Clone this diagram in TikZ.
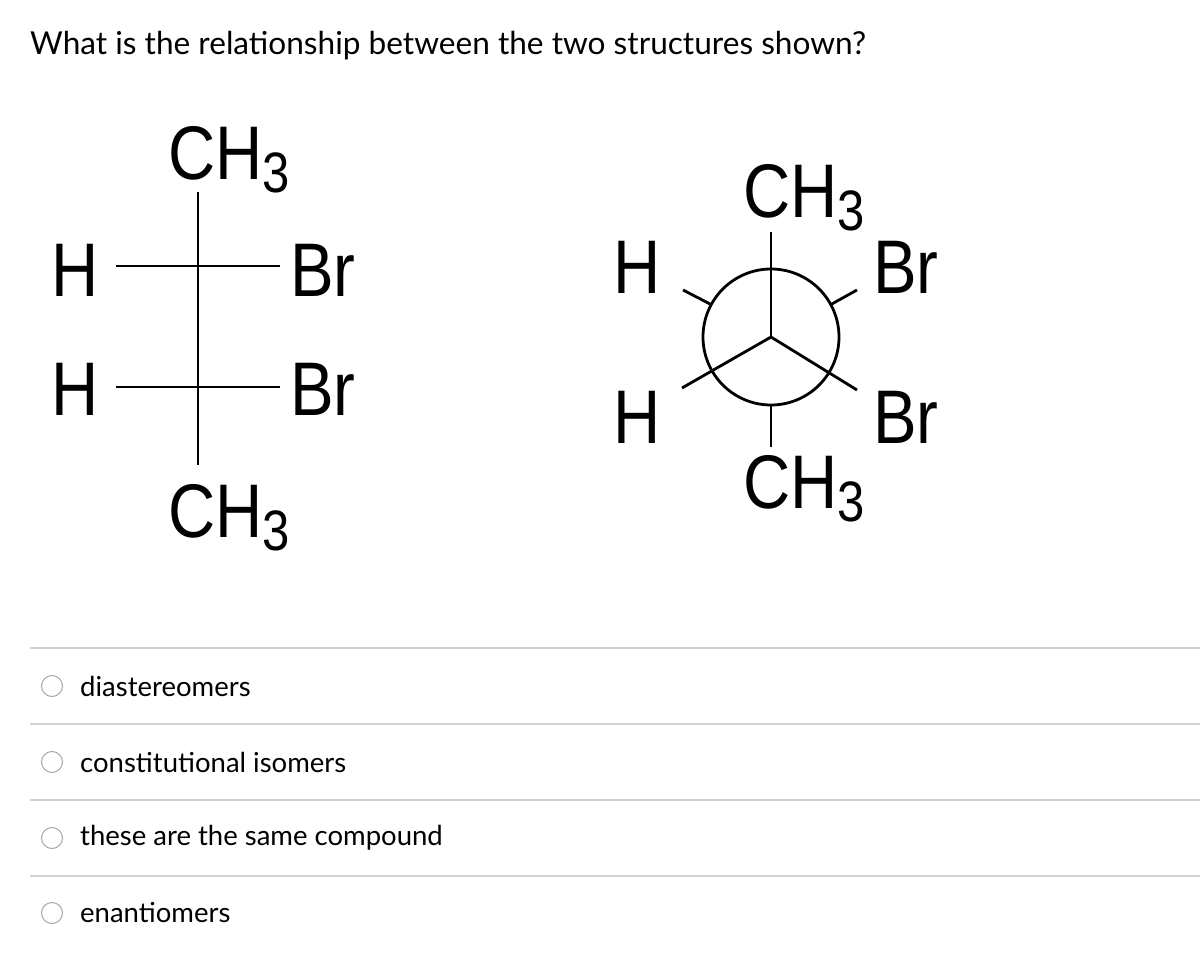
\documentclass[tikz,border=0pt]{standalone}
\usepackage{fontspec}
\setmainfont{Lato}
\newfontfamily\chem[FakeStretch=0.86]{Liberation Sans}
\newcommand{\methyl}{CH{\fontsize{57}{57}\selectfont\raisebox{-13pt}{3}}}
\begin{document}
\begin{tikzpicture}[x=1pt,y=-1pt,
  bond/.style={line width=2.8pt},
  lab/.style={font=\chem\fontsize{76}{76}\selectfont,inner sep=0pt,anchor=base west},
  opt/.style={font=\fontsize{27.5}{30}\selectfont,anchor=west,inner sep=0pt},
  radio/.style={circle,draw=gray!70,line width=1pt,minimum size=21pt,inner sep=0pt},
  sep/.style={draw=gray!35,line width=1.2pt}]
\useasboundingbox (0,0) rectangle (1200,960);
\node[font=\fontsize{31.6}{34}\selectfont,anchor=west,inner sep=0pt] (q) at (30,46) {What is the relationship between the two structures shown?};
% Fischer
\node[lab] (t) at (168,180) {\methyl};
\node[lab] (b) at (168,537) {\methyl};
\node[lab] (h1) at (51,297) {H};
\node[lab] (h2) at (51,415) {H};
\node[lab] (br1) at (290,297) {Br};
\node[lab] (br2) at (290,415) {Br};
\coordinate (vt) at (198,192); \coordinate (vb) at (198,465);
\coordinate (l1) at (116,266); \coordinate (r1) at (280,266);
\coordinate (l2) at (116,387); \coordinate (r2) at (280,387);
\draw[bond] (vt) -- (vb);
\draw[bond] (l1) -- (r1);
\draw[bond] (l2) -- (r2);
% Newman
\coordinate (c) at (771,337);
\draw[bond] (c) circle (68);
\coordinate (f1) at (771,232); \coordinate (f2) at (682,388); \coordinate (f3) at (857,390);
\draw[bond] (c) -- (f1); \draw[bond] (c) -- (f2); \draw[bond] (c) -- (f3);
\draw[bond] (712,305) -- (683,290);
\draw[bond] (830,305) -- (857,290);
\draw[bond] (771,405) -- (771,447);
\node[lab] (nt) at (743,218) {\methyl};
\node[lab] (nh1) at (613,294) {H};
\node[lab] (nbr1) at (873,294) {Br};
\node[lab] (nh2) at (613,443) {H};
\node[lab] (nbr2) at (873,443) {Br};
\node[lab] (nb) at (743,508) {\methyl};
% options
\foreach \y in {648,724,800,876} \draw[sep] (30,\y) -- (1200,\y);
\node[radio] (o1r) at (52,686) {}; \node[opt] (o1) at (80,686) {diastereomers};
\node[radio] (o2r) at (52,762) {}; \node[opt] (o2) at (80,762) {constitutional isomers};
\node[radio] (o3r) at (52,838) {}; \node[opt] (o3) at (80,838) {these are the same compound};
\node[radio] (o4r) at (52,913) {}; \node[opt] (o4) at (80,913) {enantiomers};
\end{tikzpicture}
\end{document}
